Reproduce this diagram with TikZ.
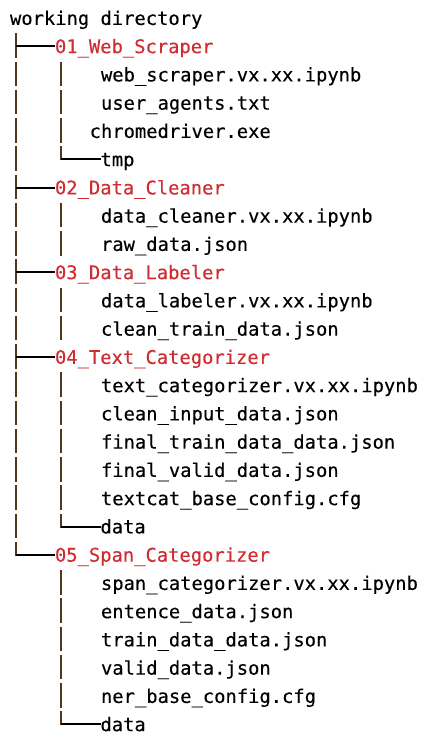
\documentclass[tikz,border=0pt]{standalone}
\usepackage{fontspec}
\newfontfamily\treemono[FakeBold=0.25]{DejaVu Sans Mono}
\definecolor{dirred}{RGB}{208,45,50}
\definecolor{barcol}{RGB}{85,55,30}
\begin{document}
\begin{tikzpicture}[x=1pt,y=-1pt,
  declare function={rc(\i)=18+28.25*\i;},
  txt/.style={anchor=base west, inner sep=0pt, outer sep=0pt, text=black,
    font=\treemono\fontsize{18.8}{22}\selectfont},
  dirtxt/.style={txt, text=dirred},
  bar/.style={draw=barcol, line width=2pt},
  hline/.style={draw=black, line width=2pt}]
\useasboundingbox (0,0) rectangle (434,745);
\fill[white] (0,0) rectangle (434,745);

% texts
\node[txt]    (n0)  at (10,{rc(0)+6.9})  {working directory};
\node[dirtxt] (n1)  at (55,{rc(1)+6.9})  {01\_Web\_Scraper};
\node[txt]    (n2)  at (101,{rc(2)+6.9}) {web\_scraper.vx.xx.ipynb};
\node[txt]    (n3)  at (101,{rc(3)+6.9}) {user\_agents.txt};
\node[txt]    (n4)  at (89.7,{rc(4)+6.9}) {chromedriver.exe};
\node[txt]    (n5)  at (100.5,{rc(5)+6.9}) {tmp};
\node[dirtxt] (n6)  at (55,{rc(6)+6.9})  {02\_Data\_Cleaner};
\node[txt]    (n7)  at (101,{rc(7)+6.9}) {data\_cleaner.vx.xx.ipynb};
\node[txt]    (n8)  at (101,{rc(8)+6.9}) {raw\_data.json};
\node[dirtxt] (n9)  at (55,{rc(9)+6.9})  {03\_Data\_Labeler};
\node[txt]    (n10) at (101,{rc(10)+6.9}) {data\_labeler.vx.xx.ipynb};
\node[txt]    (n11) at (101,{rc(11)+6.9}) {clean\_train\_data.json};
\node[dirtxt] (n12) at (55,{rc(12)+6.9}) {04\_Text\_Categorizer};
\node[txt]    (n13) at (101,{rc(13)+6.9}) {text\_categorizer.vx.xx.ipynb};
\node[txt]    (n14) at (101,{rc(14)+6.9}) {clean\_input\_data.json};
\node[txt]    (n15) at (101,{rc(15)+6.9}) {final\_train\_data\_data.json};
\node[txt]    (n16) at (101,{rc(16)+6.9}) {final\_valid\_data.json};
\node[txt]    (n17) at (101,{rc(17)+6.9}) {textcat\_base\_config.cfg};
\node[txt]    (n18) at (100.5,{rc(18)+6.9}) {data};
\node[dirtxt] (n19) at (55,{rc(19)+6.9}) {05\_Span\_Categorizer};
\node[txt]    (n20) at (101,{rc(20)+6.9}) {span\_categorizer.vx.xx.ipynb};
\node[txt]    (n21) at (101,{rc(21)+6.9}) {entence\_data.json};
\node[txt]    (n22) at (101,{rc(22)+6.9}) {train\_data\_data.json};
\node[txt]    (n23) at (101,{rc(23)+6.9}) {valid\_data.json};
\node[txt]    (n24) at (101,{rc(24)+6.9}) {ner\_base\_config.cfg};
\node[txt]    (n25) at (100.5,{rc(25)+6.9}) {data};

% vertical bar characters, column 1
\foreach \i in {1,...,18}
  \draw[bar] (15.5,{rc(\i)-13}) -- (15.5,{rc(\i)+11.5});
\draw[bar] (15.5,{rc(19)-13}) -- (15.5,{rc(19)+1});
% vertical bar characters, column 2
\foreach \i in {2,3,4,7,8,10,11,13,14,15,16,17,20,21,22,23,24}
  \draw[bar] (61,{rc(\i)-13}) -- (61,{rc(\i)+11.5});
\foreach \i in {5,18,25}
  \draw[bar] (61,{rc(\i)-13}) -- (61,{rc(\i)+1});

% horizontal connectors
\foreach \i in {1,6,9,12,19}{
  \coordinate (h\i) at (15.5,{rc(\i)});
  \draw[hline] (h\i) -- (h\i -| n\i.west);
}
\foreach \i in {5,18,25}{
  \coordinate (h\i) at (61,{rc(\i)});
  \draw[hline] (h\i) -- (h\i -| n\i.west);
}
\end{tikzpicture}
\end{document}
